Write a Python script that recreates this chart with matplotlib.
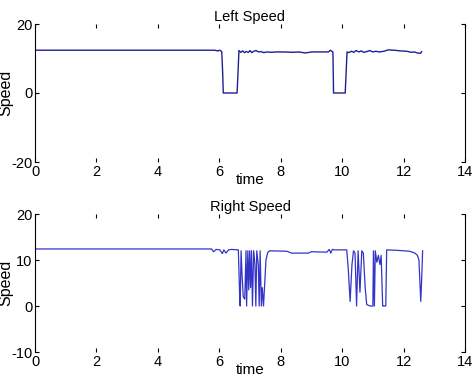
import matplotlib
matplotlib.use("Agg")
import matplotlib.pyplot as plt

plt.rcParams['font.family'] = ['Liberation Sans', 'DejaVu Sans']
plt.rcParams['axes.unicode_minus'] = False

# ---- data ----
left_t = [0.0, 5.85, 5.95, 6.02, 6.08, 6.11, 6.13, 6.58, 6.61, 6.64, 6.70, 6.76, 6.82,
          6.88, 6.95, 7.00, 7.06, 7.12, 7.20, 7.28, 7.35, 7.45, 7.55, 7.70, 7.85,
          8.10, 8.40, 8.60, 8.80, 9.00, 9.30, 9.55, 9.62, 9.66, 9.70, 9.72, 10.10,
          10.13, 10.16, 10.22, 10.30, 10.38, 10.45, 10.55, 10.62, 10.70, 10.80,
          10.90, 11.00, 11.10, 11.20, 11.30, 11.40, 11.50, 11.70, 11.90, 12.10,
          12.25, 12.35, 12.45, 12.55, 12.59]
left_v = [12.4, 12.4, 12.2, 12.4, 12.0, 6.0, 0.0, 0.0, 6.0, 12.3, 11.8, 12.2, 11.7,
          12.0, 11.8, 12.3, 11.7, 12.1, 12.3, 11.9, 12.0, 11.7, 11.9, 11.8, 11.9,
          11.9, 11.8, 11.9, 11.6, 11.9, 11.9, 11.9, 12.4, 12.1, 11.9, 0.0, 0.0,
          6.0, 11.9, 11.7, 12.1, 11.8, 12.3, 11.9, 12.2, 11.8, 12.0, 12.3, 11.9,
          12.1, 11.9, 12.0, 12.2, 12.5, 12.4, 12.2, 12.1, 11.8, 11.9, 11.6, 11.5,
          12.0]

right_t = [0.0, 5.75, 5.81, 5.90, 6.02, 6.10, 6.15, 6.22, 6.30, 6.40, 6.62, 6.66, 6.68,
           6.71, 6.74, 6.78, 6.83, 6.87, 6.89, 6.93, 6.96, 6.99, 7.02, 7.05, 7.08,
           7.12, 7.16, 7.19, 7.22, 7.27, 7.30, 7.33, 7.37, 7.40, 7.44, 7.48, 7.52,
           7.58, 7.65, 8.20, 8.35, 8.90, 9.00, 9.50, 9.58, 9.63, 9.68, 9.75, 10.15,
           10.20, 10.26, 10.32, 10.37, 10.42, 10.47, 10.52, 10.58, 10.64, 10.69,
           10.75, 10.80, 10.91, 11.00, 11.02, 11.05, 11.08, 11.13, 11.18, 11.23,
           11.27, 11.32, 11.34, 11.42, 11.45, 11.80, 12.20, 12.37, 12.45, 12.50,
           12.56, 12.59, 12.62]
right_v = [12.4, 12.4, 11.8, 12.3, 12.2, 11.4, 12.2, 11.5, 12.2, 12.3, 12.2, 3.0, 0.0,
           12.0, 7.0, 2.0, 1.5, 12.0, 0.0, 12.0, 3.5, 12.0, 4.0, 12.0, 0.0,
           12.0, 9.0, 0.0, 12.0, 9.0, 0.0, 12.0, 0.0, 4.0, 0.0, 5.0, 10.0,
           11.7, 12.0, 11.9, 11.5, 11.5, 11.8, 11.7, 12.3, 11.5, 12.3, 12.2, 12.2,
           8.0, 1.0, 9.0, 12.0, 11.5, 0.0, 12.0, 3.0, 12.0, 11.5,
           4.0, 0.3, 0.0, 0.0, 12.0, 0.0, 12.0, 9.5, 11.0, 9.0,
           11.0, 0.0, 0.0, 0.0, 12.2, 12.1, 11.9, 11.5, 11.0, 10.0,
           1.0, 6.0, 12.0]

xticks = [0, 2, 4, 6, 8, 10, 12, 14]
left_yticks = [-20, 0, 20]
right_yticks = [-10, 0, 10, 20]

fig = plt.figure(figsize=(4.74, 3.82), dpi=100)
W, H = 474, 382

def make_ax(top_px, bot_px):
    left_px, right_px = 35, 465
    return fig.add_axes([left_px / W, 1 - bot_px / H,
                         (right_px - left_px) / W, (bot_px - top_px) / H])

ax1 = make_ax(24, 162)
ax2 = make_ax(214, 352)

def style(ax, yticks, ylim, title):
    ax.set_xlim(0, 14)
    ax.set_ylim(*ylim)
    ax.set_xticks(xticks)
    ax.set_yticks(yticks)
    ax.tick_params(direction='in', length=3, width=0.8, labelsize=10.5,
                   top=True, right=True, pad=2, colors='black')
    for s in ['top', 'bottom']:
        ax.spines[s].set_visible(False)
    for s in ['left', 'right']:
        ax.spines[s].set_linewidth(0.8)
    ax.set_title(title, fontsize=10.5, pad=2)
    ax.set_xlabel('time', fontsize=11, labelpad=-4)
    ax.set_ylabel('Speed', fontsize=11.5)
    ax.yaxis.set_label_coords(-0.05, 0.5)

ax1.plot(left_t, left_v, color='#1f1f95', lw=1.0)
ax2.plot(right_t, right_v, color='#3434c8', lw=0.9)
style(ax1, left_yticks, (-20, 20), 'Left Speed')
style(ax2, right_yticks, (-10, 20), 'Right Speed')

fig.savefig('out.png', dpi=100)
